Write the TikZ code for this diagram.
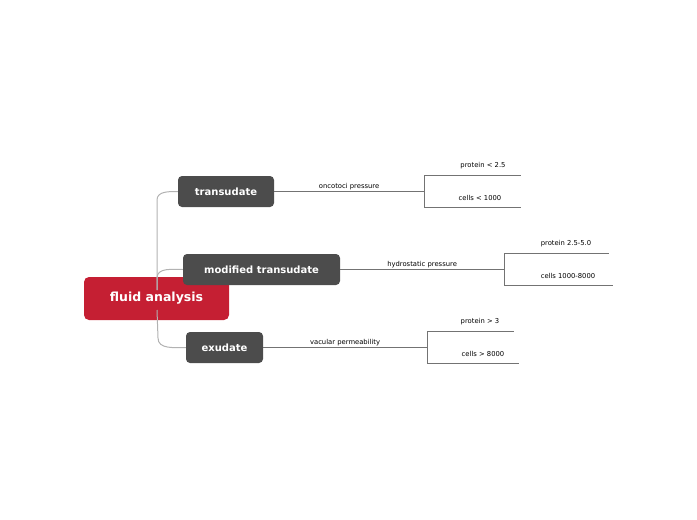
\documentclass[tikz,border=0pt]{standalone}
\usepackage{fontspec}
\setmainfont{DejaVu Sans}
\begin{document}
\begin{tikzpicture}[x=1pt,y=-1pt,
  topic/.style={fill=black!70!white, text=white, rounded corners=4pt, font=\bfseries\fontsize{10}{12}\selectfont, inner sep=0pt, minimum height=31pt},
  lbl/.style={font=\fontsize{6.8}{8}\selectfont, inner sep=1pt},
  conn/.style={draw=black!55, line width=0.6pt},
  trunk/.style={draw=black!30, line width=1pt}]
\useasboundingbox (0,0) rectangle (697,520);
\node[fill={rgb,255:red,197;green,31;blue,51}, text=white, rounded corners=5pt, font=\bfseries\fontsize{12.5}{15}\selectfont, minimum width=145pt, minimum height=43pt, inner sep=0pt] (root) at (156.5,298.5) {fluid analysis};
\node[topic, minimum width=96pt] (t) at (226,191.5) {transudate};
\node[topic, minimum width=157pt] (m) at (261.5,269.5) {modified transudate};
\node[topic, minimum width=77pt] (e) at (224.5,347.5) {exudate};
\begin{scope}[on background layer/.try]
\end{scope}
\coordinate (r0) at (157,290);
\draw[trunk] (r0) -- (157,200) to[out=90,in=180] (t.west);
\draw[trunk] (r0) -- (157,278) to[out=90,in=180] (m.west);
\draw[trunk] (157,310) -- (158,338) to[out=-90,in=180] (e.west);
% transudate
\coordinate (tb) at (424,191.5);
\draw[conn] (t.east) -- node[lbl, above] {oncotoci pressure} (tb);
\draw[conn] (424,175.5) -- (424,207.5);
\node[lbl] (t1) at (483,166) {protein < 2.5};
\node[lbl] (t2) at (480,198) {cells < 1000};
\draw[conn] (424,175.5) -- (521,175.5);
\draw[conn] (424,207.5) -- (521,207.5);
% modified
\coordinate (mb) at (504,269.5);
\draw[conn] (m.east) -- node[lbl, above] {hydrostatic pressure} (mb);
\draw[conn] (504,253.5) -- (504,285.5);
\node[lbl] (m1) at (566,244) {protein 2.5-5.0};
\node[lbl] (m2) at (568,276) {cells 1000-8000};
\draw[conn] (504,253.5) -- (609,253.5);
\draw[conn] (504,285.5) -- (613,285.5);
% exudate
\coordinate (eb) at (427,347.5);
\draw[conn] (e.east) -- node[lbl, above] {vacular permeability} (eb);
\draw[conn] (427,331.5) -- (427,363.5);
\node[lbl] (e1) at (480,322) {protein > 3};
\node[lbl] (e2) at (483,354) {cells > 8000};
\draw[conn] (427,331.5) -- (514,331.5);
\draw[conn] (427,363.5) -- (519,363.5);
\end{tikzpicture}
\end{document}
